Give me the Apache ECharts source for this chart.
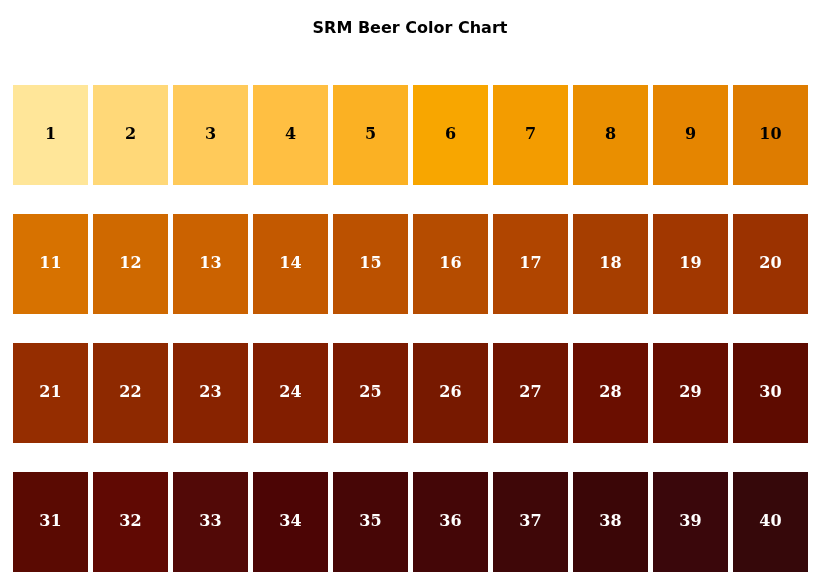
<!DOCTYPE html>
<html>
<head>
<meta charset="utf-8">
<script src="https://cdn.jsdelivr.net/npm/echarts@6/dist/echarts.min.js"></script>
<style>html,body{margin:0;padding:0;background:#fff}#c{width:820px;height:587px}</style>
</head>
<body>
<div id="c"></div>
<script>
var columns = ['c1','c2','c3','c4','c5','c6','c7','c8','c9','c10'];
var rows = ['r1','r2','r3','r4'];
var srmValues = [1,2,3,4,5,6,7,8,9,10,11,12,13,14,15,16,17,18,19,20,21,22,23,24,25,26,27,28,29,30,31,32,33,34,35,36,37,38,39,40];
var srmColors = ['#FFE699','#FFD878','#FFCA5A','#FFBF42','#FBB123','#F8A600','#F39C00','#EA8F00','#E58500','#DE7C00',
  '#D77200','#CF6900','#CB6200','#C35900','#BB5100','#B54C00','#B04500','#A63E00','#A13700','#9B3200',
  '#952D00','#8E2900','#882300','#821E00','#7B1A00','#771900','#701400','#6A0E00','#660D00','#5E0B00',
  '#5A0A02','#600903','#520907','#4C0505','#470606','#440607','#3F0708','#3B0607','#3A070B','#36080A'];
var titleText = 'SRM Beer Color Chart';

var data = srmValues.map(function (v, i) {
  return { value: [i % 10, Math.floor(i / 10), v], itemStyle: { color: srmColors[i] } };
});

var chart = echarts.init(document.getElementById('c'), null, { renderer: 'canvas' });
chart.setOption({
  animation: false,
  title: { text: titleText, left: 'center', top: 16, textStyle: { fontFamily: 'DejaVu Sans', fontWeight: 'bold', fontSize: 16, color: '#000' } },
  grid: { left: 10.5, width: 800, top: 70.5, height: 516 },
  xAxis: { type: 'category', data: columns, show: false },
  yAxis: { type: 'category', data: rows, inverse: true, show: false },
  series: [{
    type: 'custom',
    data: data,
    renderItem: function (params, api) {
      var c = api.coord([api.value(0), api.value(1)]);
      var s = api.size([1, 1]);
      var w = s[0] - 5, h = s[1] - 29;
      var v = api.value(2);
      return {
        type: 'rect',
        shape: { x: c[0] - w / 2, y: c[1] - h / 2, width: w, height: h },
        style: {
          fill: api.visual('color'),
          text: String(v),
          textFill: v <= 10 ? '#000' : '#fff',
          fontFamily: 'DejaVu Serif',
          fontWeight: 'bold',
          fontSize: 16,
          textPosition: 'inside'
        }
      };
    }
  }]
});
</script>
</body>
</html>
